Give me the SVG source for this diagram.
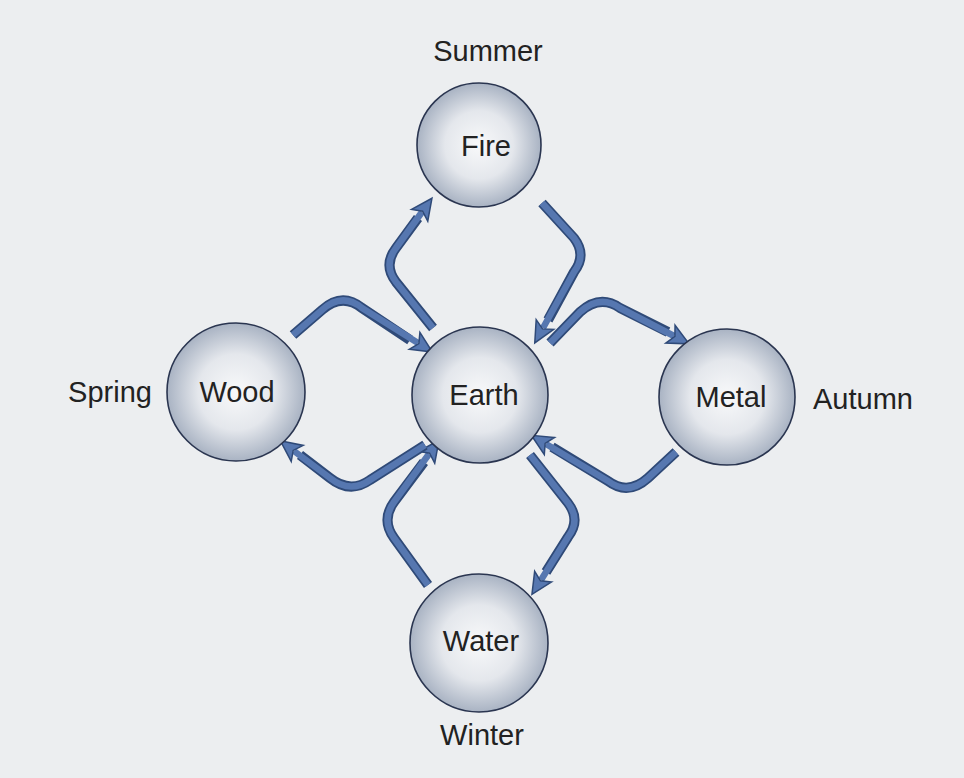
<svg xmlns="http://www.w3.org/2000/svg" width="964" height="778" viewBox="0 0 964 778">
<style>
.n{stroke:#2a3550;stroke-width:1.6;fill:url(#g)}
.t{font-family:"Liberation Sans",Arial,sans-serif;font-size:29px;fill:#222;text-anchor:middle}
.o{fill:none;stroke:#2f4a78;stroke-width:10;stroke-linecap:butt;stroke-linejoin:round}
.a{fill:none;stroke:#5677b0;stroke-width:6.5;stroke-linejoin:round;marker-end:url(#h)}
</style>
<defs>
<radialGradient id="g" cx="0.5" cy="0.5" r="0.5">
<stop offset="0" stop-color="#f8f9fa"/><stop offset="0.55" stop-color="#e4e7ec"/><stop offset="1" stop-color="#a9b3c3"/>
</radialGradient>
<marker id="h" markerUnits="userSpaceOnUse" markerWidth="26" markerHeight="26" refX="6" refY="13" orient="auto" viewBox="0 0 26 26">
<path d="M2,3 L23,13 L2,23 L7,13 Z" fill="#5677b0" stroke="#2f4a78" stroke-width="1.5"/>
</marker>
</defs>
<rect width="964" height="778" fill="#eceef0"/>
<g id="connectors">
<path class="o" d="M293,335 L322,310 Q342,292 362,308 L410,340"/>
<path class="a" d="M293,335 L322,310 Q342,292 362,308 L418,343"/>
<path class="o" d="M433,328 L396,282 Q383,265 396,248 L418,218"/>
<path class="a" d="M433,328 L396,282 Q383,265 396,248 L422,212"/>
<path class="o" d="M542,203 L574,238 Q587,255 574,272 L548,320"/>
<path class="a" d="M542,203 L574,238 Q587,255 574,272 L543,328"/>
<path class="o" d="M550,343 L580,312 Q600,294 620,308 L668,332"/>
<path class="a" d="M550,343 L580,312 Q600,294 620,308 L674,336"/>
<path class="o" d="M676,452 L648,478 Q628,496 608,481 L552,447"/>
<path class="a" d="M676,452 L648,478 Q628,496 608,481 L546,444"/>
<path class="o" d="M530,455 L568,503 Q581,520 568,537 L546,572"/>
<path class="a" d="M530,455 L568,503 Q581,520 568,537 L541,580"/>
<path class="o" d="M428,585 L394,538 Q381,520 394,502 L424,462"/>
<path class="a" d="M428,585 L394,538 Q381,520 394,502 L429,454"/>
<path class="o" d="M425,445 L370,480 Q350,494 330,478 L300,455"/>
<path class="a" d="M425,445 L370,480 Q350,494 330,478 L294,451"/>
</g>
<g id="fire"><circle class="n" cx="479" cy="145" r="62"/><text class="t" x="486" y="156">Fire</text></g>
<g id="wood"><circle class="n" cx="236" cy="392" r="69"/><text class="t" x="237" y="402">Wood</text></g>
<g id="earth"><circle class="n" cx="480" cy="395" r="68"/><text class="t" x="484" y="405">Earth</text></g>
<g id="metal"><circle class="n" cx="727" cy="397" r="68"/><text class="t" x="731" y="407">Metal</text></g>
<g id="water"><circle class="n" cx="479" cy="643" r="69"/><text class="t" x="481" y="651">Water</text></g>
<g id="labels">
<text class="t" x="110" y="402">Spring</text>
<text class="t" x="488" y="61">Summer</text>
<text class="t" x="863" y="409">Autumn</text>
<text class="t" x="482" y="745">Winter</text>
</g>
</svg>
